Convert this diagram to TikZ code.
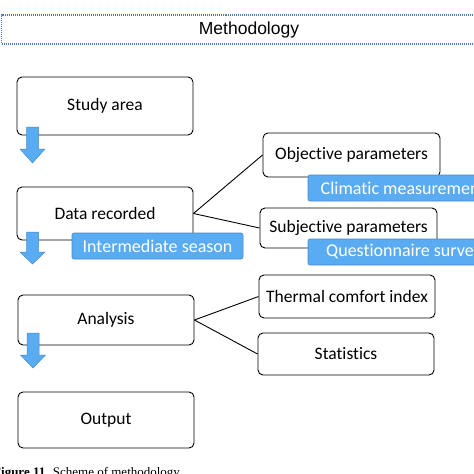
\documentclass[tikz,border=0pt]{standalone}
\usepackage{fontspec}
\setmainfont{Carlito}[Ligatures=NoCommon]
\newfontfamily\arialf{Liberation Sans}
\newfontfamily\timesf{Liberation Serif}
\definecolor{bluefill}{RGB}{90,172,242}
\definecolor{blueline}{RGB}{66,140,210}
\definecolor{dotblue}{RGB}{80,120,170}
\newcommand\bluearrow[4]{\draw[arrowst] (#1-6,#2) -- (#1+6,#2) -- (#1+6,#3) -- (#1+12.5,#3) -- (#1,#4) -- (#1-12.5,#3) -- (#1-6,#3) -- cycle;}
\begin{document}
\begin{tikzpicture}[x=1pt,y=-1pt,
  box/.style={draw=black, line width=0.9pt, rounded corners=5pt, fill=white, font=\fontsize{17.5}{20}\selectfont, inner sep=0pt},
  tag/.style={draw=blueline, line width=0.6pt, fill=bluefill, text=white, rounded corners=2pt, font=\fontsize{18}{21}\selectfont, inner sep=0pt, minimum height=26pt},
  arrowst/.style={draw=blueline, line width=0.5pt, fill=bluefill},
  link/.style={draw=black, line width=0.9pt}]
\useasboundingbox (0,0) rectangle (474,474);
\clip (0,0) rectangle (474,474);
\node[draw=dotblue, dash pattern=on 1pt off 1pt, line width=1.3pt, minimum width=495pt, minimum height=29pt, inner sep=0pt, font=\arialf\fontsize{17.5}{20}\selectfont] (title) at (249,29.5) {Methodology};
\node[box, minimum width=176pt, minimum height=58pt] (study) at (105,106) {Study area};
\node[box, minimum width=176pt, minimum height=53pt] (data) at (105,213.5) {Data recorded};
\node[box, minimum width=176pt, minimum height=50pt] (analysis) at (106,320) {Analysis};
\node[box, minimum width=176pt, minimum height=56pt] (output) at (106,420) {Output};
\node[box, minimum width=177pt, minimum height=44pt] (obj) at (351.5,155) {Objective parameters};
\node[box, minimum width=177pt, minimum height=40pt] (subj) at (348.5,228) {Subjective parameters};
\node[box, minimum width=176pt, minimum height=43pt] (thermal) at (347,296.5) {Thermal comfort index};
\node[box, minimum width=176pt, minimum height=42pt] (stats) at (346,354) {Statistics};
\draw[link] (data.east) -- (obj.west);
\draw[link] (data.east) -- (subj.west);
\draw[link] (analysis.east) -- (thermal.west);
\draw[link] (analysis.east) -- (stats.west);
\node[tag, minimum width=171pt] (inter) at (157.5,246) {Intermediate season};
\node[tag, minimum width=190pt] (clim) at (403,188) {Climatic measurement};
\node[tag, minimum width=192pt] (quest) at (404,252) {Questionnaire survey};
\bluearrow{32.5}{127}{149}{163}
\bluearrow{32.5}{232}{252}{264}
\bluearrow{33}{333}{355}{368}
\node[anchor=base west, inner sep=0pt, font=\timesf\fontsize{13}{15}\selectfont] (cap) at (-7,476) {\textbf{Figure 11.} Scheme of methodology};
\end{tikzpicture}
\end{document}
